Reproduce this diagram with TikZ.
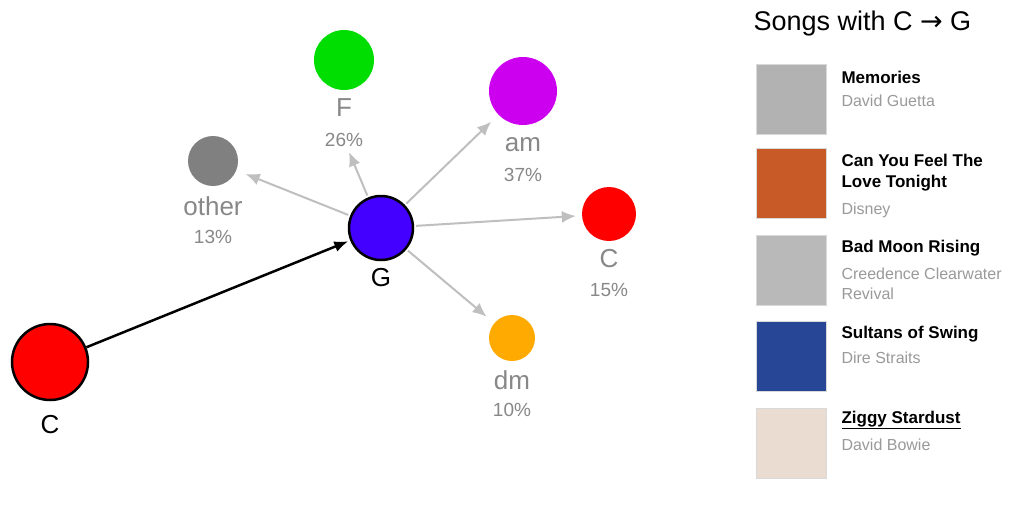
\documentclass[tikz,border=0pt]{standalone}
\usepackage{fontspec}
\setmainfont{Liberation Sans}
\newfontfamily\djfont{DejaVu Sans}
\usetikzlibrary{arrows.meta}
\definecolor{lbl}{HTML}{888888}
\definecolor{sub}{HTML}{9A9A9A}
\begin{document}
\begin{tikzpicture}[x=1pt,y=-1pt,
  chord/.style={circle,inner sep=0pt},
  main/.style={chord,draw=black,line width=2.5pt},
  big/.style={font=\fontsize{26}{26}\selectfont},
  pct/.style={font=\fontsize{19}{19}\selectfont,text=lbl},
  garr/.style={-{Latex[length=14pt,width=12pt]},draw=gray!50,line width=2pt,shorten >=10pt,shorten <=2pt},
  thumb/.style={minimum width=70pt,minimum height=70pt,inner sep=0pt,draw=gray!30},
  ttl/.style={anchor=west,font=\fontsize{17}{21}\selectfont\bfseries,align=left},
  art/.style={anchor=west,font=\fontsize{16}{20}\selectfont,text=sub,align=left}]
\useasboundingbox (0,0) rectangle (1024,504);
\fill[white] (0,0) rectangle (1024,504);
% chords
\node[main,fill=red,minimum size=76pt] (C0) at (50,362) {};
\node[main,fill={rgb,255:red,68;green,0;blue,255},minimum size=64pt] (G) at (381,228) {};
\node[chord,fill={rgb,255:red,0;green,221;blue,0},minimum size=60pt] (F) at (344,60) {};
\node[chord,fill={rgb,255:red,204;green,0;blue,238},minimum size=68pt] (am) at (523,91) {};
\node[chord,fill=gray,minimum size=50pt] (oth) at (213,161) {};
\node[chord,fill=red,minimum size=54pt] (C1) at (609,214) {};
\node[chord,fill={rgb,255:red,255;green,170;blue,0},minimum size=46pt] (dm) at (512,338) {};
% labels
\node[big] (lC0) at (50,425) {C};
\node[big] (lG) at (381,278) {G};
\node[big,text=lbl] (lF) at (344,108) {F};
\node[pct] (pF) at (344,140) {26\%};
\node[big,text=lbl] (lam) at (523,145) {am};
\node[pct] (pam) at (523,175) {37\%};
\node[big,text=lbl] (loth) at (213,206) {other};
\node[pct] (poth) at (213,237) {13\%};
\node[big,text=lbl] (lC1) at (609,259) {C};
\node[pct] (pC1) at (609,290) {15\%};
\node[big,text=lbl] (ldm) at (512,380) {dm};
\node[pct] (pdm) at (512,410) {10\%};
% arrows
\draw[garr,shorten >=2pt] (G) -- (pF);
\draw[garr] (G) -- (am);
\draw[garr] (G) -- (oth);
\draw[garr,shorten >=6pt] (G) -- (C1);
\draw[garr] (G) -- (dm);
\draw[-{Latex[length=14pt,width=11pt]},line width=2.5pt,shorten >=2pt] (C0) -- (G);
% panel
\node[anchor=west,font=\fontsize{27}{27}\selectfont] (title) at (750,24) {Songs with C {\djfont →} G};
\begin{scope}
\clip (740,50) rectangle (1024,504);
\node[thumb,fill=gray!60] (t1) at (791,99) {};
\node[thumb,fill={rgb,255:red,200;green,90;blue,40}] (t2) at (791,183) {};
\node[thumb,fill=gray!55] (t3) at (791,270) {};
\node[thumb,fill={rgb,255:red,40;green,70;blue,150}] (t4) at (791,356) {};
\node[thumb,fill={rgb,255:red,235;green,220;blue,210}] (t5) at (791,443) {};
\node[ttl] (s1) at (838,77) {Memories};
\node[art] (a1) at (838,101) {David Guetta};
\node[ttl] (s2) at (838,173) {Can You Feel The\\Love Tonight};
\node[art] (a2) at (838,210) {Disney};
\node[ttl] (s3) at (838,248) {Bad Moon Rising};
\node[art] (a3) at (838,284) {Creedence Clearwater\\Revival};
\node[ttl] (s4) at (838,334) {Sultans of Swing};
\node[art] (a4) at (838,358) {Dire Straits};
\node[ttl] (s5) at (838,420) {\underline{Ziggy Stardust}};
\node[art] (a5) at (838,445) {David Bowie};
\end{scope}
\end{tikzpicture}
\end{document}
